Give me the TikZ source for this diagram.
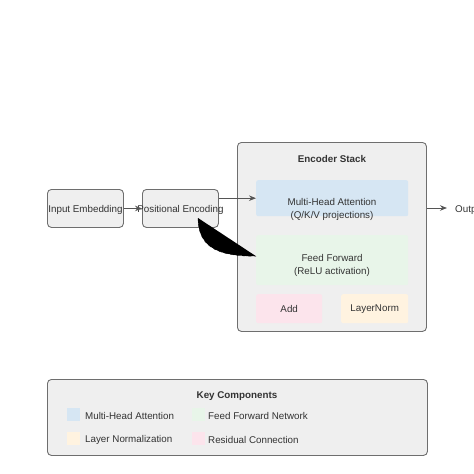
\documentclass[tikz,border=0pt]{standalone}
\usepackage{fontspec}
\setmainfont{Liberation Sans}
\usetikzlibrary{arrows.meta,calc}
\definecolor{boxline}{RGB}{110,110,110}
\definecolor{boxfill}{RGB}{239,239,239}
\definecolor{textgray}{RGB}{51,51,51}
\definecolor{arrowgray}{RGB}{85,85,85}
\definecolor{attnblue}{RGB}{214,230,243}
\definecolor{ffgreen}{RGB}{232,245,233}
\definecolor{addpink}{RGB}{252,228,236}
\definecolor{normorange}{RGB}{255,243,224}
\newcommand{\txt}{\fontsize{9.8}{13}\selectfont}

\begin{document}
\begin{tikzpicture}[x=1pt, y=-1pt, font=\txt, text=textgray,
    box/.style={draw=boxline, fill=boxfill, line width=0.9pt, rounded corners=4pt, anchor=north west, inner sep=0pt},
    block/.style={rectangle, rounded corners=2pt, anchor=north west, inner sep=0pt},
    swatch/.style={rectangle, anchor=north west, minimum size=13pt, inner sep=0pt},
    keytext/.style={anchor=west, inner sep=0pt},
    arr/.style={draw=arrowgray, line width=0.9pt, -{Stealth[length=7pt,width=5.5pt]}}]
    \useasboundingbox (0,0) rectangle (474,474);

    % Input side
    \node[box, minimum width=76pt, minimum height=38pt] (input-emb) at (47,189) {};
    \node[yshift=-2pt] (input-emb-text) at (input-emb.center) {Input Embedding};
    \node[box, minimum width=76pt, minimum height=38pt] (pos-enc) at (142,189) {};
    \node[yshift=-2pt] (pos-enc-text) at (pos-enc.center) {Positional Encoding};

    % Encoder stack
    \node[box, minimum width=189pt, minimum height=189pt] (encoder) at (237,142) {};
    \node[font=\txt\bfseries] (encoder-title) at (332,158.5) {Encoder Stack};

    \node[block, fill=attnblue, minimum width=152pt, minimum height=36pt] (mha) at (256,180) {};
    \node[align=center] (mha-text) at (332,209) {Multi-Head Attention\\(Q/K/V projections)};
    \node[block, fill=ffgreen, minimum width=152pt, minimum height=50pt] (ff) at (256,235) {};
    \node[align=center] (ff-text) at (332,265.5) {Feed Forward\\(ReLU activation)};
    \node[block, fill=addpink, minimum width=66pt, minimum height=29pt] (add) at (256,294) {Add};
    \node[block, fill=normorange, minimum width=67pt, minimum height=29pt] (norm) at (341,294) {LayerNorm};

    % Output
    \node[anchor=west, inner sep=0pt] (output) at (455,210) {Output};

    % Connectors
    \draw[arr] (input-emb.east) -- (pos-enc.west);
    \draw[arr] (pos-enc.east |- mha.west) -- (mha.west);
    \draw[arr] (encoder.east |- 0,208) -- (447,208);
    \coordinate (pos-enc-corner) at (198,218);
    \draw[dashed, fill=black] (pos-enc-corner) to[out=-90, in=180, looseness=1.2] ($(ff.west)+(0,-4)$);

    % Key components
    \node[box, minimum width=380pt, minimum height=76pt] (legend) at (47,379) {};
    \node[font=\txt\bfseries] (legend-title) at (237,396) {Key Components};

    \node[swatch, fill=attnblue] (key-mha) at (67,408) {};
    \node[keytext] (key-mha-text) at (85,416) {Multi-Head Attention};
    \node[swatch, fill=ffgreen] (key-ff) at (192,408) {};
    \node[keytext] (key-ff-text) at (208,416) {Feed Forward Network};

    \node[swatch, fill=normorange] (key-norm) at (67,432) {};
    \node[keytext] (key-norm-text) at (85,440) {Layer Normalization};
    \node[swatch, fill=addpink] (key-add) at (192,432) {};
    \node[keytext] (key-add-text) at (208,440) {Residual Connection};

\end{tikzpicture}
\end{document}
